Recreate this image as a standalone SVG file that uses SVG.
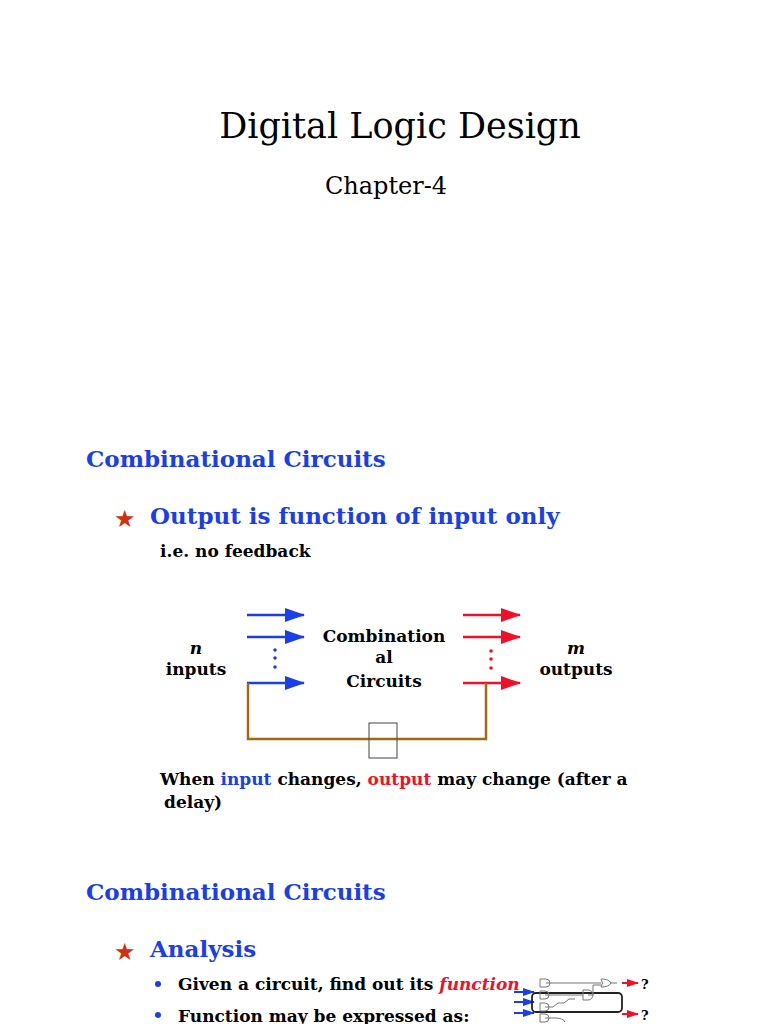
<svg xmlns="http://www.w3.org/2000/svg" width="768" height="1024" viewBox="0 0 768 1024">
<defs>
<marker id="ab2" markerWidth="20" markerHeight="14" refX="19" refY="7" orient="auto" markerUnits="userSpaceOnUse"><path d="M0,0 L20,7 L0,14z" fill="#1a3ee8"/></marker>
<marker id="ar2" markerWidth="20" markerHeight="14" refX="19" refY="7" orient="auto" markerUnits="userSpaceOnUse"><path d="M0,0 L20,7 L0,14z" fill="#f0102a"/></marker>
<marker id="ars" markerWidth="12" markerHeight="8" refX="11" refY="4" orient="auto" markerUnits="userSpaceOnUse"><path d="M0,0 L12,4 L0,8z" fill="#f0102a"/></marker>
<marker id="abs" markerWidth="12" markerHeight="8" refX="11" refY="4" orient="auto" markerUnits="userSpaceOnUse"><path d="M0,0 L12,4 L0,8z" fill="#1a3ee8"/></marker>
</defs>
<style>
text{font-family:"DejaVu Serif","Noto Serif",serif}
.h{fill:#1a3ee8;font-size:23px;font-weight:bold}
.b{font-size:17px;font-weight:bold;fill:#000}
.bl{fill:#1a3ee8}
.rd{fill:#f0102a}
.in{stroke:#1a3ee8;stroke-width:2.5;marker-end:url(#ab2)}
.out{stroke:#f0102a;stroke-width:2.5;marker-end:url(#ar2)}
.g{fill:none;stroke:#777;stroke-width:1}
</style>
<rect width="768" height="1024" fill="#fff"/>
<text x="400" y="138" font-size="35" text-anchor="middle" font-weight="300">Digital Logic Design</text>
<text x="386" y="194" font-size="24" text-anchor="middle">Chapter-4</text>
<text x="86" y="467" class="h">Combinational Circuits</text>
<text x="114" y="527" font-size="24" fill="#d03010">★</text>
<text x="150" y="524" class="h" font-size="19">Output is function of input only</text>
<text x="160" y="557" class="b">i.e. no feedback</text>
<g id="connectors">
<line x1="247" y1="615" x2="304" y2="615" class="in"/>
<line x1="247" y1="637" x2="304" y2="637" class="in"/>
<line x1="247" y1="683" x2="304" y2="683" class="in"/>
<line x1="463" y1="615" x2="520" y2="615" class="out"/>
<line x1="463" y1="637" x2="520" y2="637" class="out"/>
<line x1="463" y1="683" x2="520" y2="683" class="out"/>
<polyline points="248,683 248,739 486,739 486,683" fill="none" stroke="#a06a10" stroke-width="2.5"/>
<rect x="369" y="723" width="28" height="35" fill="none" stroke="#444" stroke-width="1"/>
<g fill="#1a3ee8"><circle cx="275" cy="650" r="1.8"/><circle cx="275" cy="658" r="1.8"/><circle cx="275" cy="667" r="1.8"/></g>
<g fill="#f0102a"><circle cx="491" cy="651" r="1.8"/><circle cx="491" cy="659" r="1.8"/><circle cx="491" cy="668" r="1.8"/></g>
</g>
<g id="block" class="b">
<text x="384" y="642" text-anchor="middle">Combination</text>
<text x="384" y="663" text-anchor="middle">al</text>
<text x="384" y="687" text-anchor="middle">Circuits</text>
</g>
<g id="labels" class="b">
<text x="196" y="654" text-anchor="middle" font-style="italic">n</text>
<text x="196" y="675" text-anchor="middle">inputs</text>
<text x="576" y="654" text-anchor="middle" font-style="italic">m</text>
<text x="576" y="675" text-anchor="middle">outputs</text>
</g>
<text x="160" y="785" class="b">When <tspan class="bl">input</tspan> changes, <tspan class="rd">output</tspan> may change (after a</text>
<text x="164" y="808" class="b">delay)</text>
<text x="86" y="900" class="h">Combinational Circuits</text>
<text x="114" y="960" font-size="24" fill="#d03010">★</text>
<text x="150" y="957" class="h" font-size="19">Analysis</text>
<circle cx="158" cy="984" r="3" fill="#1a3ee8"/>
<text x="178" y="990" class="b">Given a circuit, find out its <tspan class="rd" font-style="italic">function</tspan></text>
<circle cx="158" cy="1015" r="3" fill="#1a3ee8"/>
<text x="178" y="1022" class="b">Function may be expressed as:</text>
<g id="circuit">
<line x1="514" y1="992" x2="534" y2="992" stroke="#1a3ee8" stroke-width="2" marker-end="url(#abs)"/>
<line x1="514" y1="1002" x2="534" y2="1002" stroke="#1a3ee8" stroke-width="2" marker-end="url(#abs)"/>
<line x1="514" y1="1013" x2="534" y2="1013" stroke="#1a3ee8" stroke-width="2" marker-end="url(#abs)"/>
<rect x="532" y="993" width="90" height="19" rx="4" fill="none" stroke="#222" stroke-width="1.8"/>
<path class="g" d="M540,979 h6 a4,4 0 0 1 0,8 h-6z M546,983 h55 M601,979 q8,0 10,4 q-2,4 -10,4 q3,-4 0,-8z M611,983 h6 M540,991 h5 a4,4 0 0 1 0,8 h-5z M545,995 h38 M583,990 h5 a5,5 0 0 1 0,10 h-5z M588,995 h5 v-10 h8 M540,1003 h5 a4,4 0 0 1 0,8 h-5z M545,1007 h8 l5,-4 h6 l5,-4 h6 M540,1014 h5 a4,4 0 0 1 0,8 h-5z M545,1018 h10 q8,0 10,4"/>
<line x1="622" y1="983" x2="638" y2="983" stroke="#f0102a" stroke-width="2" marker-end="url(#ars)"/>
<line x1="622" y1="1014" x2="638" y2="1014" stroke="#f0102a" stroke-width="2" marker-end="url(#ars)"/>
<text x="641" y="989" font-size="13" font-weight="bold" font-family="Liberation Sans,sans-serif">?</text>
<text x="641" y="1020" font-size="13" font-weight="bold" font-family="Liberation Sans,sans-serif">?</text>
</g>
</svg>
